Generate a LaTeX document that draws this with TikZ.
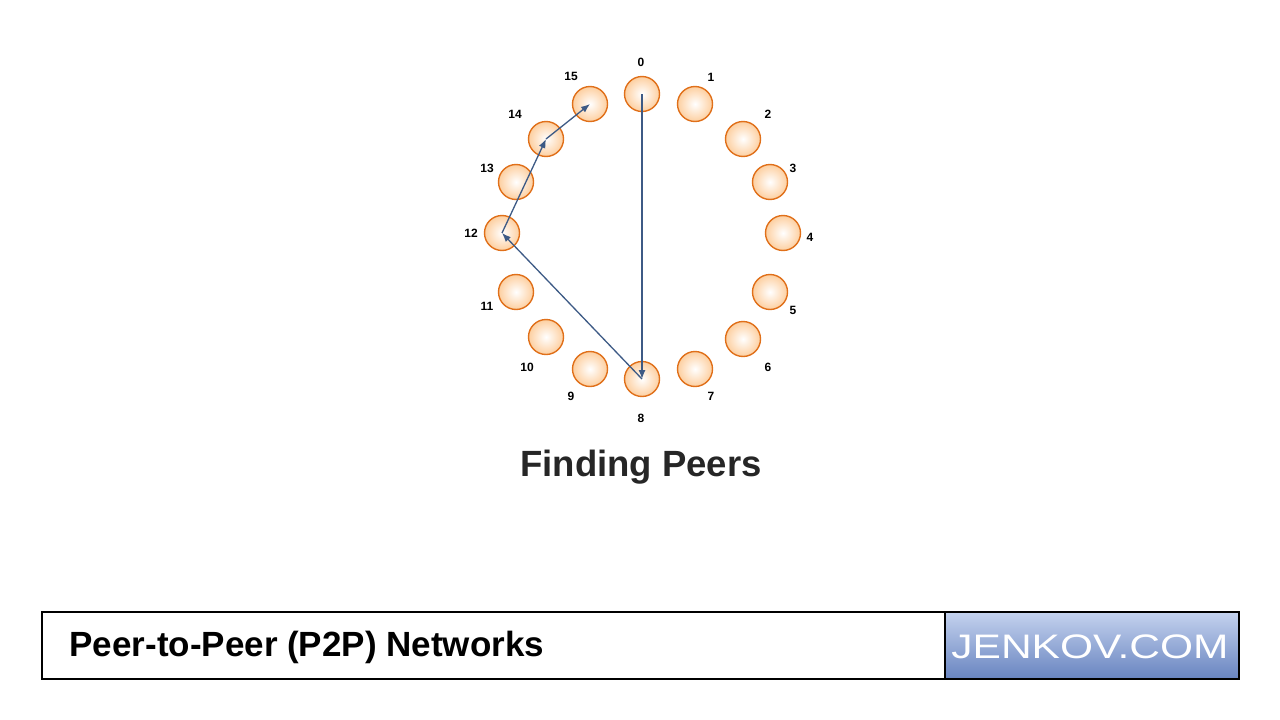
\documentclass[tikz,border=0pt]{standalone}
\usepackage{fontspec}
\usetikzlibrary{arrows.meta}
\setmainfont{Liberation Sans}
\definecolor{ringo}{HTML}{E0701A}
\definecolor{peach}{HTML}{FDCFA0}
\definecolor{arrc}{HTML}{3D5A85}
\definecolor{logot}{HTML}{C4D2EE}
\definecolor{logob}{HTML}{6884C0}
\begin{document}
\begin{tikzpicture}[x=1pt,y=-1pt,
 peer/.style={circle,draw=ringo,line width=1.4pt,minimum size=35pt,inner sep=0pt,inner color=white,outer color=peach},
 lab/.style={font=\fontsize{12}{12}\selectfont\bfseries},
 arr/.style={-{Latex[length=9pt,width=7pt]},draw=arrc,line width=1.3pt}]
\useasboundingbox (0,0) rectangle (1280,720);
\foreach \n/\x/\y/\lx/\ly in {0/642/94/641/62,1/695/104/711/77,2/743/139/768/114,3/770/182/793/168,4/783/233/810/237,5/770/292/793/310,6/743/339/768/367,7/695/369/711/396,8/642/379/641/418,9/590/369/571/396,10/546/337/527/367,11/516/292/487/306,12/502/233/471/233,13/516/182/487/168,14/546/139/515/114,15/590/104/571/76}{
 \node[peer] (p\n) at (\x,\y) {};
 \node[lab] (l\n) at (\lx,\ly) {\n};
}
\draw[arr] (p0.center) -- (p8.center);
\draw[arr] (p8.center) -- (p12.center);
\draw[arr] (p12.center) -- (p14.center);
\draw[arr] (p14.center) -- (p15.center);
\node[font=\fontsize{36.5}{36.5}\selectfont\bfseries,text=black!85] (title) at (641,467) {Finding Peers};
\shade[top color=logot,bottom color=logob] (945,612) rectangle (1239,679);
\draw[line width=1.3pt] (42,612) rectangle (1239,679);
\draw[line width=1.3pt] (945,612) -- (945,679);
\node[anchor=west,font=\fontsize{35}{35}\selectfont\bfseries] (foot) at (66,647) {Peer-to-Peer (P2P) Networks};
\node[font=\fontsize{34}{34}\selectfont,text=white,xscale=1.25] (logo) at (1090,647) {JENKOV.COM};
\end{tikzpicture}
\end{document}
